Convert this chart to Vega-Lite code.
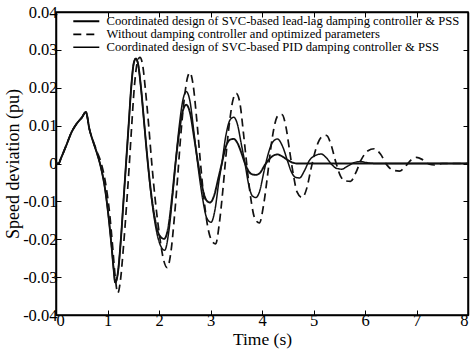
{
  "$schema": "https://vega.github.io/schema/vega-lite/v6.json",
  "width": 412,
  "height": 303,
  "autosize": {"type": "none"},
  "padding": {"left": 56, "top": 12, "right": 6, "bottom": 41},
  "background": "white",
  "config": {
    "view": {"stroke": "black", "strokeWidth": 1.5},
    "axis": {
      "grid": false,
      "domainColor": "black",
      "domainWidth": 1.5,
      "tickColor": "black",
      "tickSize": -5,
      "labelFont": "Liberation Serif",
      "labelFontSize": 16.5,
      "labelColor": "black",
      "titleFont": "Liberation Serif",
      "titleFontSize": 18,
      "titleFontWeight": "normal",
      "titleColor": "black"
    },
    "legend": {
      "labelFont": "Liberation Serif",
      "labelFontSize": 12.6,
      "labelColor": "black",
      "labelLimit": 500,
      "symbolStrokeColor": "black"
    }
  },
  "data": {
    "values": [
      {"s":"L","t":0,"v":0},{"s":"L","t":0.05,"v":0},{"s":"L","t":0.1,"v":0.0015},{"s":"L","t":0.2,"v":0.0048},{"s":"L","t":0.3,"v":0.0082},{"s":"L","t":0.4,"v":0.0105},{"s":"L","t":0.5,"v":0.0121},{"s":"L","t":0.58,"v":0.0136},{"s":"L","t":0.65,"v":0.009},{"s":"L","t":0.72,"v":0.0058},{"s":"L","t":0.8,"v":0.0025},
      {"s":"L","t":0.88,"v":-0.0015},{"s":"L","t":0.95,"v":-0.0065},{"s":"L","t":1.02,"v":-0.014},{"s":"L","t":1.08,"v":-0.022},{"s":"L","t":1.12,"v":-0.028},{"s":"L","t":1.15,"v":-0.0314},{"s":"L","t":1.2,"v":-0.029},{"s":"L","t":1.26,"v":-0.02},{"s":"L","t":1.31,"v":-0.01},{"s":"L","t":1.36,"v":0},{"s":"L","t":1.41,"v":0.01},{"s":"L","t":1.46,"v":0.02},{"s":"L","t":1.51,"v":0.0265},{"s":"L","t":1.55,"v":0.0277},{"s":"L","t":1.59,"v":0.0265},{"s":"L","t":1.65,"v":0.02},{"s":"L","t":1.71,"v":0.011},{"s":"L","t":1.77,"v":0.002},{"s":"L","t":1.84,"v":-0.007},{"s":"L","t":1.92,"v":-0.0145},{"s":"L","t":2.01,"v":-0.019},{"s":"L","t":2.1,"v":-0.0199},{"s":"L","t":2.19,"v":-0.016},{"s":"L","t":2.26,"v":-0.008},{"s":"L","t":2.32,"v":0},{"s":"L","t":2.39,"v":0.008},{"s":"L","t":2.46,"v":0.0138},{"s":"L","t":2.53,"v":0.0155},{"s":"L","t":2.6,"v":0.0135},{"s":"L","t":2.68,"v":0.007},{"s":"L","t":2.76,"v":0},{"s":"L","t":2.85,"v":-0.0068},{"s":"L","t":2.92,"v":-0.0097},{"s":"L","t":2.99,"v":-0.0103},{"s":"L","t":3.07,"v":-0.0085},{"s":"L","t":3.15,"v":-0.004},{"s":"L","t":3.22,"v":0},{"s":"L","t":3.3,"v":0.0045},{"s":"L","t":3.38,"v":0.0063},{"s":"L","t":3.45,"v":0.0065},{"s":"L","t":3.52,"v":0.0055},{"s":"L","t":3.6,"v":0.0028},{"s":"L","t":3.67,"v":0},{"s":"L","t":3.75,"v":-0.0022},{"s":"L","t":3.82,"v":-0.0029},{"s":"L","t":3.88,"v":-0.003},{"s":"L","t":3.96,"v":-0.0025},{"s":"L","t":4.05,"v":-0.0005},{"s":"L","t":4.12,"v":0.0008},{"s":"L","t":4.21,"v":0.002},{"s":"L","t":4.3,"v":0.0024},{"s":"L","t":4.4,"v":0.0018},{"s":"L","t":4.5,"v":0.0009},{"s":"L","t":4.6,"v":0.0002},{"s":"L","t":4.7,"v":0},{"s":"L","t":8,"v":0},

      {"s":"P","t":0,"v":0},{"s":"P","t":0.05,"v":0},{"s":"P","t":0.1,"v":0.0015},{"s":"P","t":0.2,"v":0.0048},{"s":"P","t":0.3,"v":0.0082},{"s":"P","t":0.4,"v":0.0105},{"s":"P","t":0.5,"v":0.0121},{"s":"P","t":0.58,"v":0.0136},{"s":"P","t":0.65,"v":0.009},{"s":"P","t":0.72,"v":0.0058},{"s":"P","t":0.8,"v":0.0025},
      {"s":"P","t":0.88,"v":-0.0015},{"s":"P","t":0.95,"v":-0.0065},{"s":"P","t":1.02,"v":-0.014},{"s":"P","t":1.08,"v":-0.022},{"s":"P","t":1.12,"v":-0.028},{"s":"P","t":1.15,"v":-0.0314},{"s":"P","t":1.2,"v":-0.029},{"s":"P","t":1.26,"v":-0.02},{"s":"P","t":1.31,"v":-0.01},{"s":"P","t":1.36,"v":0},{"s":"P","t":1.41,"v":0.01},{"s":"P","t":1.46,"v":0.02},{"s":"P","t":1.51,"v":0.0265},{"s":"P","t":1.55,"v":0.0277},{"s":"P","t":1.59,"v":0.0265},{"s":"P","t":1.65,"v":0.02},{"s":"P","t":1.71,"v":0.011},{"s":"P","t":1.77,"v":0.002},{"s":"P","t":1.84,"v":-0.0075},{"s":"P","t":1.92,"v":-0.0155},{"s":"P","t":2.01,"v":-0.021},{"s":"P","t":2.11,"v":-0.0229},{"s":"P","t":2.19,"v":-0.018},{"s":"P","t":2.26,"v":-0.009},{"s":"P","t":2.32,"v":0},{"s":"P","t":2.39,"v":0.0095},{"s":"P","t":2.46,"v":0.0165},{"s":"P","t":2.53,"v":0.019},{"s":"P","t":2.6,"v":0.0165},{"s":"P","t":2.68,"v":0.008},{"s":"P","t":2.76,"v":-0.001},{"s":"P","t":2.85,"v":-0.0095},{"s":"P","t":2.93,"v":-0.0145},{"s":"P","t":3.01,"v":-0.0155},{"s":"P","t":3.09,"v":-0.012},{"s":"P","t":3.16,"v":-0.005},{"s":"P","t":3.22,"v":0},{"s":"P","t":3.3,"v":0.0075},{"s":"P","t":3.38,"v":0.0115},{"s":"P","t":3.45,"v":0.0122},{"s":"P","t":3.52,"v":0.0105},{"s":"P","t":3.6,"v":0.005},{"s":"P","t":3.67,"v":0},{"s":"P","t":3.74,"v":-0.0055},{"s":"P","t":3.81,"v":-0.0085},{"s":"P","t":3.88,"v":-0.009},{"s":"P","t":3.95,"v":-0.0075},{"s":"P","t":4.04,"v":-0.002},{"s":"P","t":4.11,"v":0.002},{"s":"P","t":4.2,"v":0.0055},{"s":"P","t":4.3,"v":0.0065},{"s":"P","t":4.4,"v":0.0045},{"s":"P","t":4.5,"v":0.0005},{"s":"P","t":4.58,"v":-0.0025},{"s":"P","t":4.66,"v":-0.0037},{"s":"P","t":4.73,"v":-0.0038},{"s":"P","t":4.82,"v":-0.002},{"s":"P","t":4.92,"v":0.0008},{"s":"P","t":5.05,"v":0.0022},{"s":"P","t":5.15,"v":0.0025},{"s":"P","t":5.25,"v":0.0015},{"s":"P","t":5.35,"v":-0.0002},{"s":"P","t":5.45,"v":-0.0013},{"s":"P","t":5.55,"v":-0.0015},{"s":"P","t":5.65,"v":-0.0008},{"s":"P","t":5.78,"v":0.0002},{"s":"P","t":5.9,"v":0.0005},{"s":"P","t":6.05,"v":0.0002},{"s":"P","t":6.2,"v":0},{"s":"P","t":8,"v":0},

      {"s":"W","t":0,"v":0},{"s":"W","t":0.05,"v":0},{"s":"W","t":0.1,"v":0.0015},{"s":"W","t":0.2,"v":0.0048},{"s":"W","t":0.3,"v":0.0082},{"s":"W","t":0.4,"v":0.0105},{"s":"W","t":0.5,"v":0.0121},{"s":"W","t":0.58,"v":0.0136},{"s":"W","t":0.65,"v":0.009},{"s":"W","t":0.72,"v":0.006},{"s":"W","t":0.8,"v":0.003},
      {"s":"W","t":0.88,"v":0},{"s":"W","t":0.96,"v":-0.005},{"s":"W","t":1.04,"v":-0.013},{"s":"W","t":1.1,"v":-0.022},{"s":"W","t":1.15,"v":-0.03},{"s":"W","t":1.2,"v":-0.0342},{"s":"W","t":1.25,"v":-0.031},{"s":"W","t":1.31,"v":-0.022},{"s":"W","t":1.37,"v":-0.011},{"s":"W","t":1.42,"v":-0.001},{"s":"W","t":1.47,"v":0.01},{"s":"W","t":1.52,"v":0.02},{"s":"W","t":1.58,"v":0.0268},{"s":"W","t":1.63,"v":0.028},{"s":"W","t":1.68,"v":0.0262},{"s":"W","t":1.74,"v":0.019},{"s":"W","t":1.8,"v":0.01},{"s":"W","t":1.86,"v":0},{"s":"W","t":1.93,"v":-0.01},{"s":"W","t":2.01,"v":-0.019},{"s":"W","t":2.09,"v":-0.0255},{"s":"W","t":2.16,"v":-0.0275},{"s":"W","t":2.23,"v":-0.0235},{"s":"W","t":2.3,"v":-0.014},{"s":"W","t":2.36,"v":-0.004},{"s":"W","t":2.42,"v":0.007},{"s":"W","t":2.49,"v":0.017},{"s":"W","t":2.55,"v":0.0225},{"s":"W","t":2.6,"v":0.024},{"s":"W","t":2.66,"v":0.021},{"s":"W","t":2.73,"v":0.012},{"s":"W","t":2.8,"v":0.001},{"s":"W","t":2.87,"v":-0.009},{"s":"W","t":2.95,"v":-0.017},{"s":"W","t":3.03,"v":-0.0205},{"s":"W","t":3.1,"v":-0.0212},{"s":"W","t":3.17,"v":-0.016},{"s":"W","t":3.24,"v":-0.007},{"s":"W","t":3.3,"v":0.002},{"s":"W","t":3.37,"v":0.011},{"s":"W","t":3.44,"v":0.017},{"s":"W","t":3.5,"v":0.0185},{"s":"W","t":3.57,"v":0.016},{"s":"W","t":3.64,"v":0.008},{"s":"W","t":3.71,"v":-0.001},{"s":"W","t":3.78,"v":-0.009},{"s":"W","t":3.86,"v":-0.0145},{"s":"W","t":3.95,"v":-0.0157},{"s":"W","t":4.03,"v":-0.011},{"s":"W","t":4.1,"v":-0.004},{"s":"W","t":4.17,"v":0.004},{"s":"W","t":4.25,"v":0.0105},{"s":"W","t":4.32,"v":0.0128},{"s":"W","t":4.39,"v":0.0129},{"s":"W","t":4.46,"v":0.01},{"s":"W","t":4.54,"v":0.003},{"s":"W","t":4.61,"v":-0.003},{"s":"W","t":4.68,"v":-0.0075},{"s":"W","t":4.78,"v":-0.009},{"s":"W","t":4.87,"v":-0.0065},{"s":"W","t":4.95,"v":-0.0015},{"s":"W","t":5.05,"v":0.004},{"s":"W","t":5.16,"v":0.007},{"s":"W","t":5.25,"v":0.0074},{"s":"W","t":5.34,"v":0.005},{"s":"W","t":5.43,"v":0.0005},{"s":"W","t":5.52,"v":-0.0032},{"s":"W","t":5.62,"v":-0.0046},{"s":"W","t":5.72,"v":-0.0047},{"s":"W","t":5.82,"v":-0.0025},{"s":"W","t":5.92,"v":0.0008},{"s":"W","t":6.05,"v":0.0033},{"s":"W","t":6.18,"v":0.0039},{"s":"W","t":6.3,"v":0.0025},{"s":"W","t":6.42,"v":-0.0003},{"s":"W","t":6.55,"v":-0.0018},{"s":"W","t":6.67,"v":-0.002},{"s":"W","t":6.78,"v":-0.0008},{"s":"W","t":6.9,"v":0.001},{"s":"W","t":7.0,"v":0.0016},{"s":"W","t":7.12,"v":0.001},{"s":"W","t":7.25,"v":-0.0002},{"s":"W","t":7.35,"v":-0.0004},{"s":"W","t":7.5,"v":0},{"s":"W","t":8,"v":0}
    ]
  },
  "layer": [
    {
      "mark": {"type": "line", "color": "#111111", "interpolate": "monotone", "clip": true},
      "encoding": {
        "x": {
          "field": "t", "type": "quantitative",
          "scale": {"domain": [0, 8], "nice": false},
          "axis": {"values": [0,1,2,3,4,5,6,7,8], "title": "Time (s)", "labelPadding": 2, "titlePadding": 2, "titleFontSize": 17.5}
        },
        "y": {
          "field": "v", "type": "quantitative",
          "scale": {"domain": [-0.04, 0.04], "nice": false, "zero": false},
          "axis": {
            "values": [-0.04,-0.03,-0.02,-0.01,0,0.01,0.02,0.03,0.04],
            "labelExpr": "datum.value == 0 ? '0' : (datum.value < 0 ? '-' + format(-datum.value, '.2f') : format(datum.value, '.2f'))",
            "title": "Speed deviation (pu)",
            "labelPadding": 4,
            "titlePadding": 0
          }
        },
        "detail": {"field": "s"},
        "strokeDash": {
          "field": "s", "type": "nominal",
          "scale": {"domain": ["L", "W", "P"], "range": [[1, 0], [8, 5], [1, 0]]},
          "legend": {
            "title": null,
            "orient": "none",
            "legendX": 24,
            "legendY": 3,
            "padding": 0,
            "symbolType": "M-2.6,0H2.6",
            "symbolSize": 100,
            "rowPadding": 0,
            "labelOffset": 14,
            "labelExpr": "datum.value == 'L' ? 'Coordinated design of SVC-based lead-lag damping controller & PSS' : (datum.value == 'W' ? 'Without damping controller and optimized parameters' : 'Coordinated design of SVC-based PID damping controller & PSS')"
          }
        },
        "strokeWidth": {
          "field": "s", "type": "nominal",
          "scale": {"domain": ["L", "W", "P"], "range": [1.9, 1.5, 1.4]},
          "legend": {
            "title": null,
            "orient": "none",
            "legendX": 24,
            "legendY": 3,
            "padding": 0,
            "symbolType": "M-2.6,0H2.6",
            "symbolSize": 100,
            "rowPadding": 0,
            "labelOffset": 14,
            "labelExpr": "datum.value == 'L' ? 'Coordinated design of SVC-based lead-lag damping controller & PSS' : (datum.value == 'W' ? 'Without damping controller and optimized parameters' : 'Coordinated design of SVC-based PID damping controller & PSS')"
          }
        }
      }
    },
    {
      "mark": {"type": "line", "strokeOpacity": 0},
      "encoding": {
        "x": {"field": "t", "type": "quantitative", "axis": {"orient": "top", "values": [0,1,2,3,4,5,6,7,8], "labels": false, "title": null}},
        "y": {"field": "v", "type": "quantitative", "axis": {"orient": "right", "values": [-0.04,-0.03,-0.02,-0.01,0,0.01,0.02,0.03,0.04], "labels": false, "title": null}},
        "detail": {"field": "s"}
      }
    }
  ],
  "resolve": {"axis": {"x": "independent", "y": "independent"}}
}
